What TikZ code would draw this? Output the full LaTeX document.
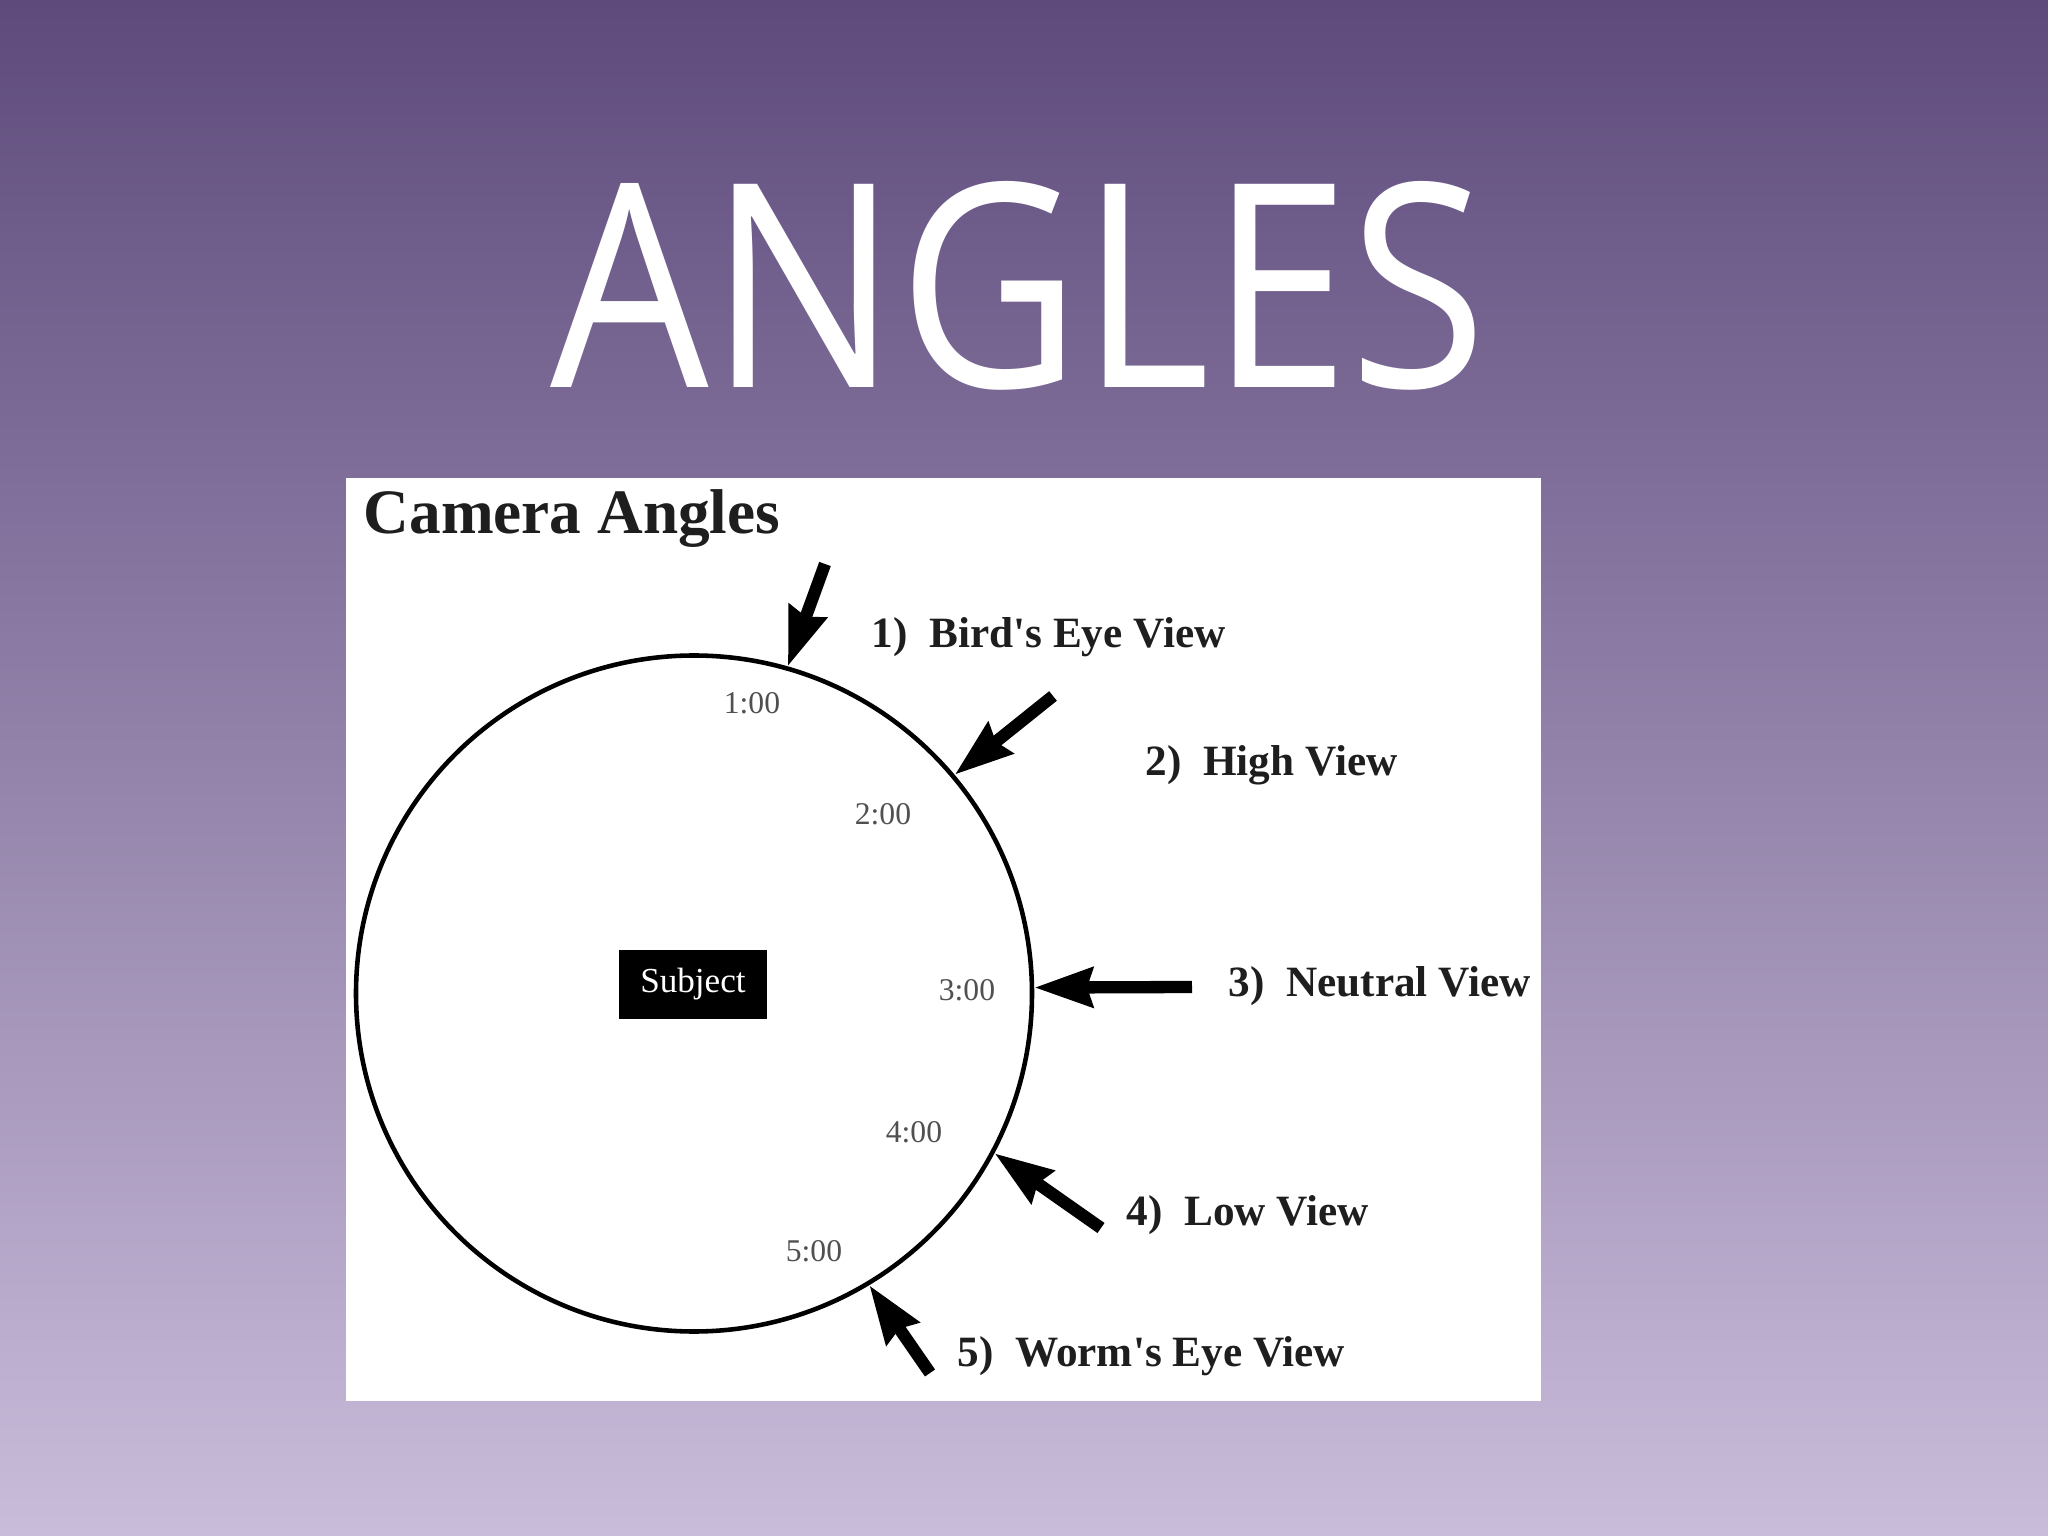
\documentclass[tikz,border=0pt]{standalone}
\usepackage{fontspec}
\setmainfont{Liberation Serif}
\newfontfamily\titlefont{Open Sans}
\usetikzlibrary{arrows.meta,positioning}

\definecolor{slidetop}{HTML}{5E4B7C}
\definecolor{slidemid}{HTML}{AE9BC8}
\definecolor{slidebot}{HTML}{C9BCDA}
\definecolor{hourgray}{HTML}{505050}
\definecolor{inkblack}{HTML}{1E1E1E}

\begin{document}
\begin{tikzpicture}[
>={Stealth[length=16.5pt,width=11pt,inset=1.5pt]},
view/.style={
	->,
	line width=3.5pt
},
hour/.style={
	font=\fontsize{9}{10}\selectfont,
	text=hourgray,
	inner sep=0pt
},
viewlabel/.style={
	anchor=west,
	text=inkblack,
	font=\fontsize{12.3}{14}\selectfont\bfseries,
	inner sep=0pt
}
]
\useasboundingbox (0,0) rectangle (20.48,-15.36);
\shade[top color=slidetop,middle color=slidemid,bottom color=slidebot] (0,0) rectangle (20.48,-15.36);

\node[anchor=base,inner sep=0pt,text=white,font=\titlefont\fontsize{81}{90}\selectfont] (title) at (10.19,-3.88) {\scalebox{0.88}[1]{ANGLES}};

\fill[white] (3.46,-4.78) rectangle (15.41,-14.01);
\node[anchor=base west,inner sep=0pt,text=inkblack,font=\fontsize{18}{20}\selectfont\bfseries] (heading) at (3.63,-5.33) {Camera Angles};

\node[draw,circle,line width=1.3pt,minimum size=6.76cm,inner sep=0pt] (clock) at (6.94,-9.935) {};
\node[fill=black,text=white,minimum width=1.48cm,minimum height=0.69cm,font=\fontsize{10}{12}\selectfont] (subject) at (6.93,-9.845) {Subject};

\foreach \n/\x/\y in {1/7.52/-7.03,2/8.83/-8.14,3/9.67/-9.90,4/9.14/-11.32,5/8.14/-12.51}
\node[hour] (h\n) at (\x,\y) {\n:00};

\foreach \n/\a/\tx/\ty/\lx/\ly/\txt in {
	1/74/8.25/-5.64/8.71/-6.37/Bird\textquotesingle s Eye View,
	2/40/10.53/-6.96/11.45/-7.65/High View,
	3/1/11.92/-9.87/12.28/-9.86/Neutral View,
	4/-28/11.01/-12.28/11.26/-12.15/Low View,
	5/-59/9.30/-13.73/9.57/-13.56/Worm\textquotesingle s Eye View}
{
\coordinate (t\n) at (\tx,\ty);
\draw[view] (t\n) -- (clock.\a);
\node[viewlabel] (v\n) at (\lx,\ly) {\n)\ \ \txt};
}
\end{tikzpicture}
\end{document}
